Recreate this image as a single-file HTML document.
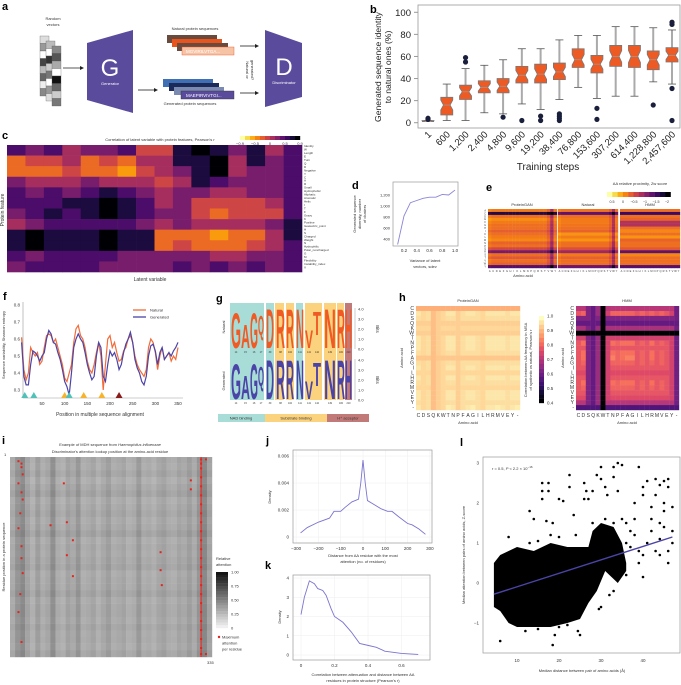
<!DOCTYPE html>
<html><head><meta charset="utf-8"><style>
html,body{margin:0;padding:0;background:#fff;}
svg{display:block;font-family:"Liberation Sans",sans-serif;}
.pl{font-weight:bold;font-size:11px;}
.t6{font-size:6px;fill:#333;}
.t5{font-size:5px;fill:#333;}
.t4{font-size:4px;fill:#333;}
</style></head><body>
<svg id="fig" width="681" height="685" viewBox="0 0 681 685">
<g>
<text class="pl" x="2" y="10">a</text>
<text class="t4" x="53" y="20" text-anchor="middle">Random</text>
<text class="t4" x="53" y="26" text-anchor="middle">vectors</text>
<g id="rv"></g>
<line x1="63" y1="68" x2="80" y2="68" stroke="#222" stroke-width="0.8"/>
<polygon points="80,66 84,68 80,70" fill="#222"/>
<polygon points="87,43 133,30 133,113 87,100" fill="#5a4b9d"/>
<text x="110" y="76" font-size="24" fill="#fff" text-anchor="middle">G</text>
<text x="110" y="85" font-size="4" fill="#fff" text-anchor="middle">Generator</text>
<text class="t4" x="195" y="30" text-anchor="middle">Natural protein sequences</text>
<rect x="167" y="35" width="50" height="8" fill="#6b4a3e"/>
<rect x="172" y="39" width="50" height="8" fill="#e8541e"/>
<rect x="177" y="43" width="51" height="8" fill="#6b4a3e"/>
<rect x="182" y="47" width="52" height="8" fill="#f7c3a5" stroke="#e8541e" stroke-width="0.4"/>
<text x="186" y="53" font-size="4.5" fill="#fff">MGVIRILVTGA...</text>
<line x1="138" y1="90" x2="154" y2="90" stroke="#222" stroke-width="0.8"/>
<polygon points="154,88 158,90 154,92" fill="#222"/>
<rect x="163" y="79" width="50" height="8" fill="#3f6fb5"/>
<rect x="169" y="83" width="50" height="8" fill="#1c2a5a"/>
<rect x="174" y="87" width="50" height="8" fill="#7a8ab0"/>
<rect x="181" y="91" width="53" height="8" fill="#5a4b9d" stroke="#333" stroke-width="0.4"/>
<text x="186" y="97" font-size="4.5" fill="#fff">MAEPIRVIVTGI...</text>
<text class="t4" x="190" y="105" text-anchor="middle">Generated protein sequences</text>
<line x1="240" y1="46" x2="255" y2="46" stroke="#222" stroke-width="0.8"/>
<polygon points="255,44 259,46 255,48" fill="#222"/>
<line x1="240" y1="93" x2="255" y2="93" stroke="#222" stroke-width="0.8"/>
<polygon points="255,91 259,93 255,95" fill="#222"/>
<text class="t4" transform="translate(246,70) rotate(90)" text-anchor="middle">Natural or</text>
<text class="t4" transform="translate(251,70) rotate(90)" text-anchor="middle">generated?</text>
<polygon points="265,30 302,43 302,97 265,107" fill="#5a4b9d"/>
<text x="284" y="75" font-size="24" fill="#fff" text-anchor="middle">D</text>
<text x="284" y="84" font-size="4" fill="#fff" text-anchor="middle">Discriminator</text>
</g>

<g>
<text class="pl" x="370" y="13">b</text>
<rect x="418" y="5" width="262" height="123" fill="none" stroke="#999" stroke-width="0.8"/>
<g id="bplot"></g>
<text font-size="8.6" fill="#222" transform="translate(381,67) rotate(-90)" text-anchor="middle">Generated sequence identity</text>
<text font-size="8.6" fill="#222" transform="translate(391,67) rotate(-90)" text-anchor="middle">to natural ones (%)</text>
<text font-size="10" fill="#222" x="548" y="170" text-anchor="middle">Training steps</text>
</g>

<g>
<text class="pl" x="2" y="139">c</text>
<text class="t4" x="160" y="141" text-anchor="middle" font-size="4.5">Correlation of latent variable with protein features, Pearson's r</text>
<g id="ccb"></g>
<g id="cheat"></g>
<g id="clab"></g>
<text font-size="5" fill="#333" x="150" y="281" text-anchor="middle">Latent variable</text>
<text font-size="5" fill="#333" transform="translate(4,210) rotate(-90)" text-anchor="middle">Protein feature</text>
</g>

<g>
<text class="pl" x="352" y="189">d</text>
<rect x="393" y="182" width="65" height="64" fill="none" stroke="#999" stroke-width="0.7"/>
<g id="dplot"></g>
<text class="t4" transform="translate(356,214) rotate(-90)" text-anchor="middle">Generated sequence</text>
<text class="t4" transform="translate(361,214) rotate(-90)" text-anchor="middle">diversity, number</text>
<text class="t4" transform="translate(366,214) rotate(-90)" text-anchor="middle">of clusters</text>
<text class="t4" x="425" y="262" text-anchor="middle">Variance of latent</text>
<text class="t4" x="425" y="268" text-anchor="middle">vectors, sdev</text>
</g>

<g>
<text class="pl" x="486" y="191">e</text>
<text class="t4" x="640" y="185" text-anchor="middle">AA relative proximity, Zw score</text>
<g id="ecb"></g>
<g id="eheat"></g>
<text class="t4" x="522" y="206" text-anchor="middle" font-size="4.5">ProteinGAN</text>
<text class="t4" x="588" y="206" text-anchor="middle" font-size="4.5">Natural</text>
<text class="t4" x="650" y="206" text-anchor="middle" font-size="4.5">HMM</text>
<text class="t4" x="523" y="277" font-size="3" text-anchor="middle">Amino acid</text>
</g>

<g>
<text class="pl" x="3" y="300">f</text>
<g id="fplot"></g>
<text class="t4" transform="translate(5,345) rotate(-90)" text-anchor="middle">Sequence variability, Shannon entropy</text>
<text class="t5" x="100" y="416" text-anchor="middle">Position in multiple sequence alignment</text>
<line x1="133" y1="310" x2="146" y2="310" stroke="#f26b38" stroke-width="1.3"/>
<text class="t4" x="150" y="311.5">Natural</text>
<line x1="133" y1="317" x2="146" y2="317" stroke="#4b44a8" stroke-width="1.3"/>
<text class="t4" x="150" y="318.5">Generated</text>
</g>

<g>
<text class="pl" x="216" y="302">g</text>
<g id="glogo"></g>
<text class="t4" transform="translate(225,327) rotate(-90)" text-anchor="middle">Natural</text>
<text class="t4" transform="translate(225,381) rotate(-90)" text-anchor="middle">Generated</text>
<rect x="218" y="414" width="47" height="8" fill="#a8dcd6"/>
<rect x="265" y="414" width="62" height="8" fill="#fbd27e"/>
<rect x="327" y="414" width="42" height="8" fill="#c27a78"/>
<text class="t4" x="241" y="419.5" text-anchor="middle">NAD binding</text>
<text class="t4" x="296" y="419.5" text-anchor="middle">Substrate binding</text>
<text class="t4" x="348" y="419.5" text-anchor="middle">H⁺ acceptor</text>
</g>

<g>
<text class="pl" x="399" y="301">h</text>
<text class="t4" x="468" y="302" text-anchor="middle" font-size="4.5">ProteinGAN</text>
<text class="t4" x="627" y="302" text-anchor="middle" font-size="4.5">HMM</text>
<g id="hheat"></g>
<g id="hcb"></g>
<text class="t4" transform="translate(527,360) rotate(-90)" text-anchor="middle">Correlation between AA frequency in MSA</text>
<text class="t4" transform="translate(532,360) rotate(-90)" text-anchor="middle">of synthetic vs natural, Pearson's r</text>
<text class="t4" x="468" y="424" text-anchor="middle">Amino acid</text>
<text class="t4" x="627" y="424" text-anchor="middle">Amino acid</text>
<text class="t4" transform="translate(403,358) rotate(-90)" text-anchor="middle">Amino acid</text>
<text class="t4" transform="translate(564,358) rotate(-90)" text-anchor="middle">Amino acid</text>
</g>

<g>
<text class="pl" x="2" y="444">i</text>
<text class="t4" x="110" y="446" text-anchor="middle" font-size="4.5">Example of MDH sequence from <tspan font-style="italic">Haemophilus influenzae</tspan></text>
<text class="t4" x="110" y="453" text-anchor="middle" font-size="4.5">Discriminator's attention lookup position at the amino-acid residue</text>
<text class="t4" x="4" y="456">1</text>
<g id="iheat"></g>
<text class="t4" x="207" y="664">335</text>
<text class="t4" transform="translate(5,557) rotate(-90)" text-anchor="middle" font-size="4.5">Residue position in a protein sequence</text>
<text class="t4" x="216" y="560">Relative</text>
<text class="t4" x="216" y="566">attention</text>
<g id="icb"></g>
<circle cx="219" cy="637" r="1.2" fill="#e8221c"/>
<text class="t4" x="222" y="638.5">Maximum</text>
<text class="t4" x="222" y="644.5">attention</text>
<text class="t4" x="222" y="650.5">per residue</text>
</g>

<g>
<text class="pl" x="266" y="444">j</text>
<g id="jplot"></g>
<text class="t4" x="363" y="557" text-anchor="middle">Distance from AA residue with the most</text>
<text class="t4" x="363" y="563" text-anchor="middle">attention (no. of residues)</text>
<text class="t4" transform="translate(271,497) rotate(-90)" text-anchor="middle">Density</text>
</g>

<g>
<text class="pl" x="265" y="569">k</text>
<g id="kplot"></g>
<text class="t4" x="363" y="676" text-anchor="middle">Correlation between attenuation and distance between AA</text>
<text class="t4" x="363" y="682" text-anchor="middle">residues in protein structure (Pearson's r)</text>
<text class="t4" transform="translate(281,617) rotate(-90)" text-anchor="middle">Density</text>
</g>

<g>
<text class="pl" x="460" y="446">l</text>
<rect x="483" y="457" width="197" height="196" fill="none" stroke="#999" stroke-width="0.7"/>
<g id="lplot"></g>
<text class="t4" x="492" y="470">r = 0.5, <tspan font-style="italic">P</tspan> &lt; 2.2 × 10<tspan dy="-2" font-size="3">−16</tspan></text>
<text class="t4" x="582" y="672" text-anchor="middle">Median distance between pair of amino acids (Å)</text>
<text class="t4" transform="translate(465,555) rotate(-90)" text-anchor="middle">Median attention between pairs of amino acids, Z-score</text>
</g>
</svg>
<script>
// ---------- data arrays ----------
const bCategories = ['1','600','1,200','2,400','4,800','9,600','19,200','38,400','76,800','153,600','307,200','614,400','1,228,800','2,457,600'];
const bMedian = [1,16,28,32,33,43,44,46,57,53,60,60,57,61];
const bQ1 = [1,7,21,27,27,36,36,39,50,45,51,50,48,55];
const bQ3 = [2,23,34,38,40,51,53,54,67,61,70,70,65,68];
const bWhiskLo = [1,2,2,9,8,17,12,21,32,22,24,24,37,35];
const bWhiskHi = [2,35,49,52,57,67,67,75,79,79,87,87,86,84];
const bOutliers = [[3,4],[],[55,59],[],[5],[2],[2,6],[2,4,6,8],[],[13,3],[],[],[16],[31,2,89,91]];
const bYTicks = [0,20,40,60,80,100];

const cGrid = ["7675667448986857","3445343558895867","3334332456895667","6555655545876667","7676787656655667","7778898756444457","6787898766434447","5677777656555568","8988898833323358","8988898834333457","7677776666655667","6777766667676767"];
const cFeatures = ['Identity','W','Length','E','Turn','Q','D','Negative','Y','C','A','R','Small','Hydrophobic','Aliphatic','Aromatic','Helix','I','T','F','Gravy','K','Positive','Isoelectric_point','H','S','Charged','Weight','N','Hydrophilic','Polar_noncharged','G','M','Flexibility','Instability_index','V'];

const dX = [0.1,0.2,0.3,0.4,0.5,0.6,0.7,0.8,0.9,1.0];
const dY = [300,820,1060,1100,1140,1160,1160,1210,1200,1290];
const dYTicks = [400,600,800,1000,1200];
const dXTicks = [0.2,0.4,0.6,0.8,1.0];

const eAA = ['A','C','D','E','F','G','H','I','K','L','M','N','P','Q','R','S','T','V','W','Y'];
const eGanRows = [0.1,-1.9,0,0.25,0.1,0,0,-0.15,0,0.1,0.2,-0.1,0,-0.4,-1.2,0,-0.2,0,-0.1,-1.5];
const eNatRows = [0.05,-1.4,0,0.1,0.1,0.05,0,-0.1,0.3,0.1,0.3,0,0,-0.3,-0.9,0.1,-0.1,0,0,-1.3];
const eHmmRows = [0,-1.7,0,-0.1,-0.7,-0.7,0,0.2,0,0.3,-0.1,0,0,-0.2,-1.4,0.2,0,0,0,-1.5];
const eColMod = [0.1,0,0,0,0,0,0,0,0,0,0,0,0,0,0,0,0,-0.2,-0.8,0];
const eCbTicks = [0.5,0,-0.5,-1,-1.5,-2];

const fPos = [5,10,15,20,25,30,35,40,45,50,55,60,65,70,75,80,85,90,95,100,105,110,115,120,125,130,135,140,145,150,155,160,165,170,175,180,185,190,195,200,205,210,215,220,225,230,235,240,245,250,255,260,265,270,275,280,285,290,295,300,305,310,315,320,325,330,335,340,345,350];
const fNatural = [0.61,0.42,0.36,0.40,0.55,0.52,0.50,0.52,0.45,0.47,0.55,0.62,0.63,0.62,0.58,0.60,0.55,0.50,0.45,0.37,0.35,0.40,0.45,0.58,0.66,0.68,0.62,0.60,0.55,0.47,0.42,0.40,0.45,0.52,0.58,0.50,0.30,0.45,0.60,0.62,0.55,0.58,0.52,0.47,0.48,0.53,0.55,0.60,0.62,0.58,0.50,0.45,0.42,0.40,0.38,0.42,0.55,0.60,0.58,0.52,0.42,0.50,0.55,0.48,0.50,0.52,0.47,0.50,0.48,0.55];
const fGenerated = [0.58,0.38,0.33,0.33,0.45,0.53,0.52,0.50,0.47,0.50,0.52,0.60,0.65,0.63,0.58,0.57,0.52,0.48,0.42,0.35,0.32,0.27,0.40,0.55,0.60,0.63,0.60,0.58,0.52,0.45,0.40,0.36,0.38,0.50,0.58,0.55,0.38,0.35,0.45,0.53,0.50,0.52,0.48,0.42,0.45,0.52,0.57,0.60,0.64,0.58,0.48,0.43,0.40,0.35,0.33,0.38,0.50,0.56,0.57,0.53,0.45,0.52,0.55,0.48,0.50,0.52,0.50,0.53,0.55,0.58];
const fYTicks = [0.3,0.4,0.5,0.6,0.7,0.8];
const fXTicks = [50,100,150,200,250,300,350];
const fTriPos = [12,32,100,110,142,182,220];
const fTriColor = ['#4fc1b8','#4fc1b8','#f7b32b','#4fc1b8','#f7b32b','#f7b32b','#8b1a1a'];

const gTop = ['G','A','G','Q','D','R','R','N','V','T','N','R','H'];
const gTopH = [0.9,0.6,0.9,0.5,1,1,1,1,0.45,0.6,1,1,1];
const gSegColors = ['#a8dcd6','#a8dcd6','#fbd27e','#fbd27e','#a8dcd6','#fbd27e','#fbd27e','#fbd27e','#c27a78'];
const gSites = ['14','15','16','17','39','98','102','111','141','142','149','182','210'];

const hAA = ['C','D','S','Q','K','W','T','N','P','F','A','G','I','L','H','R','M','V','E','Y','-'];
const hGanRow = [0.9,0.97,0.96,0.94,0.95,0.94,0.97,0.97,0.97,0.96,0.93,0.96,0.97,0.95,0.97,0.96,0.95,0.97,0.97,0.96,0.98];
const hGanCol = [0.97,0.95,0.96,0.92,0.94,0.95,0.98,0.97,0.94,0.96,0.97,0.98,0.96,0.95,0.97,0.97,0.98,0.97,0.96,0.97,0.98];
const hHmmRow = [0.7,0.8,0.62,0.58,0.68,0.4,0.74,0.82,0.78,0.82,0.84,0.8,0.78,0.76,0.78,0.82,0.8,0.78,0.76,0.7,0.55];
const hHmmCol = [0.78,0.82,0.62,0.58,0.66,0.4,0.74,0.84,0.8,0.82,0.88,0.84,0.78,0.8,0.78,0.82,0.78,0.8,0.78,0.74,0.6];
const hCbTicks = [0.4,0.5,0.6,0.7,0.8,0.9,1.0];

const iColVals = [0.45,0.62,0.7,0.5,0.4,0.55,0.42,0.48,0.66,0.44,0.4,0.52,0.46,0.6,0.42,0.45,0.5,0.4,0.47,0.55,0.43,0.46,0.5,0.41,0.44,0.58,0.42,0.45,0.4,0.48,0.52,0.44,0.42,0.5,0.46,0.55,0.45,0.62,0.72,0.5];
const iRowVals = [0.5,0.45,0.55,0.4,0.5,0.6,0.42,0.48,0.55,0.45,0.5,0.62,0.44,0.5,0.46,0.52,0.58,0.44,0.48,0.5,0.6,0.45,0.5,0.52,0.46,0.55,0.48,0.5,0.45,0.56];
const iRedCols = [317,317,317,317,317,317,317,317,317,317,317,317,317,317,317,317,317,317,317,317,317,317,317,317,15,20,20,22,15,20,22,18,15,20,20,22,18,15,20,90,95,95,105,105,250,250,252,300,300,68,325,325];
const iRedRows = [5,20,35,50,65,80,95,110,125,140,155,170,185,200,215,230,245,260,275,290,305,320,330,12,8,12,18,30,45,60,72,95,120,150,170,195,230,260,310,45,110,165,140,200,160,190,215,40,55,115,5,330];

const jX = [-280,-250,-200,-150,-130,-100,-80,-50,-20,-10,0,10,20,40,80,110,130,160,200,220,250,280];
const jY = [0.0003,0.0007,0.0011,0.0014,0.0019,0.0019,0.0022,0.0026,0.0028,0.0040,0.0057,0.0040,0.0027,0.0025,0.0021,0.0019,0.0019,0.0015,0.0010,0.0009,0.0006,0.0002];
const jYTicks = [0,0.002,0.004,0.006];
const jXTicks = [-300,-200,-100,0,100,200,300];

const kX = [0,0.02,0.05,0.08,0.1,0.13,0.15,0.18,0.2,0.25,0.3,0.35,0.4,0.45,0.5,0.6,0.7];
const kY = [2.1,3.0,3.85,3.7,3.45,3.35,3.1,2.4,2.0,1.7,1.2,0.6,0.5,0.4,0.2,0.08,0.03];
const kYTicks = [0,1,2,3,4];
const kXTicks = [0,0.2,0.4,0.6];

const lDenseUpX = [4.5,6,8,10,14,18,22,25,27,28,30,33,35,36];
const lDenseUpY = [0.5,0.7,0.8,0.9,0.8,1.0,0.9,0.9,0.9,1.3,1.5,1.4,1.0,0.5];
const lDenseLoX = [36,34,31,29,27,25,22,18,14,10,8,6,4.5];
const lDenseLoY = [0.3,0,0.3,-0.2,-0.5,-0.9,-1.0,-1.1,-1.1,-1.1,-1.0,-0.7,-0.6];
const lSparseX = [16,16,16,17.5,17.5,20,21,22.5,22.5,23.5,18.5,17,13,14,26,26.5,26,27,28,29,30,30,31,31.5,33,34,35,33,34,35,36,38,39,40,40,41,43,43,44,45,46,46,45,44,42,41,43,46,39,40,37,36,34,33,32,30,29.5,27,26,25,24.5,19,18.5,6,12,15,20,22,5,8,13,15,18,20,24,28,29,31,33,38,42,45,47,47,44,39,36,30,46,38,42,44,37,40,45,47];
const lSparseY = [2.5,2.3,2.1,2.5,2.3,2.1,2.05,2.7,2.4,1.7,1.5,1.55,1.8,1.6,2.5,2.3,2.1,2.1,2.3,2.7,2.9,2.6,2.4,2.2,2.9,3.0,2.95,2.65,2.3,1.6,1.5,2.0,2.9,2.4,2.2,2.55,2.6,2.2,2.45,2.55,2.6,2.4,1.8,1.5,1.3,1.0,0.8,0.5,0.8,0.15,1.3,1.0,0.7,-0.2,-0.3,-0.6,-0.65,-0.3,0.3,-1.3,-1.2,-1.3,-1.55,-1.45,-1.2,-1.15,-1.1,-1.05,0.5,1.15,1.0,1.05,1.2,1.15,1.2,1.5,1.3,1.6,1.5,1.6,1.9,2.0,1.9,1.0,0.7,0.5,0.2,0.2,0.8,1.2,1.6,1.1,0.9,0.7,1.4,1.3];
const lFitX = [4.5,47];
const lFitY = [-0.28,1.15];
const lYTicks = [-1,0,1,2,3];
const lXTicks = [10,20,30,40];

// ---------- helpers ----------
const NS='http://www.w3.org/2000/svg';
function el(tag, parent){const e=document.createElementNS(NS,tag);parent.appendChild(e);return e;}
function G(id){return document.getElementById(id);}
function lin(d0,d1,r0,r1){return v=>r0+(v-d0)/(d1-d0)*(r1-r0);}
function hex2(c){return [parseInt(c.slice(1,3),16),parseInt(c.slice(3,5),16),parseInt(c.slice(5,7),16)];}
function ramp(stops){return t=>{t=Math.max(0,Math.min(1,t));const n=stops.length-1;const i=Math.min(n-1,Math.floor(t*n));const f=t*n-i;const a=hex2(stops[i]),b=hex2(stops[i+1]);return 'rgb('+a.map((x,k)=>Math.round(x+(b[k]-x)*f)).join(',')+')';};}
const inferno=ramp(['#000004','#160b39','#420a68','#6a176e','#932667','#bc3754','#dd513a','#f37819','#fca50a','#f6d746','#fcffa4']);
const magma=ramp(['#000004','#140e36','#3b0f70','#641a80','#8c2981','#b73779','#de4968','#f7705c','#fe9f6d','#fecf92','#fcfdbf']);
function txt(parent,x,y,s,size,anchor){const t=el('text',parent);t.setAttribute('x',x);t.setAttribute('y',y);t.setAttribute('font-size',size);t.setAttribute('fill','#333');if(anchor)t.setAttribute('text-anchor',anchor);t.textContent=s;return t;}

// ---------- a: random vectors ----------
(function(){const g=G('rv');const shades=[['#ddd','#999','#fff','#444','#bbb','#666','#eee','#888'],['#bbb','#fff','#333','#ccc','#777','#fff','#999','#ddd'],['#888','#555','#aaa','#fff','#111','#666','#ccc','#777']];
for(let c=0;c<3;c++)for(let r=0;r<8;r++){const rc=el('rect',g);rc.setAttribute('x',40+c*6);rc.setAttribute('y',36+c*5+r*7.5);rc.setAttribute('width',9);rc.setAttribute('height',7.5);rc.setAttribute('fill',shades[c][r]);rc.setAttribute('stroke','#555');rc.setAttribute('stroke-width',0.3);

}})();

// ---------- b ----------
(function(){const g=G('bplot');const y=lin(0,100,122.7,12.3);const x0=428,step=(672-428)/13;
bYTicks.forEach(v=>{const t=txt(g,411,y(v)+3.5,String(v),9.5,'end');t.setAttribute('fill','#222');


const tk=el('line',g);tk.setAttribute('x1',414);tk.setAttribute('x2',418);tk.setAttribute('y1',y(v));tk.setAttribute('y2',y(v));tk.setAttribute('stroke','#999');

});
bCategories.forEach((c,i)=>{const cx=x0+i*step;const w=6,n=(bQ3[i]-bQ1[i])*0.25+0.5;
const wl=el('line',g);wl.setAttribute('x1',cx);wl.setAttribute('x2',cx);wl.setAttribute('y1',y(bWhiskLo[i]));wl.setAttribute('y2',y(bWhiskHi[i]));wl.setAttribute('stroke','#aaa');wl.setAttribute('stroke-width',2);


[bWhiskLo[i],bWhiskHi[i]].forEach(v=>{const cap=el('line',g);cap.setAttribute('x1',cx-4);cap.setAttribute('x2',cx+4);cap.setAttribute('y1',y(v));cap.setAttribute('y2',y(v));cap.setAttribute('stroke','#555');cap.setAttribute('stroke-width',0.8);

});
const m=bMedian[i],q1=bQ1[i],q3=bQ3[i];const nu=Math.min(m+n,q3),nl=Math.max(m-n,q1);
const pts=[[cx-w,q3],[cx+w,q3],[cx+w,nu],[cx+w*0.55,m],[cx+w,nl],[cx+w,q1],[cx-w,q1],[cx-w,nl],[cx-w*0.55,m],[cx-w,nu]];
const bx=el('polygon',g);bx.setAttribute('points',pts.map(p=>p[0]+','+y(p[1])).join(' '));bx.setAttribute('fill','#ee5a24');bx.setAttribute('stroke','#777');bx.setAttribute('stroke-width',0.8);


const md=el('line',g);md.setAttribute('x1',cx-w*0.55);md.setAttribute('x2',cx+w*0.55);md.setAttribute('y1',y(m));md.setAttribute('y2',y(m));md.setAttribute('stroke','#999');md.setAttribute('stroke-width',0.8);


bOutliers[i].forEach(v=>{const o=el('circle',g);o.setAttribute('cx',cx);o.setAttribute('cy',y(v));o.setAttribute('r',2.6);o.setAttribute('fill','#1a1f3c');

});
const t=el('text',g);t.setAttribute('transform','translate('+(cx+4)+',135) rotate(-45)');t.setAttribute('text-anchor','end');t.setAttribute('font-size',9.5);t.setAttribute('fill','#222');t.textContent=c;

});})();

// ---------- c ----------
(function(){const g=G('cheat');const rows=cGrid.length,cols=cGrid[0].length;const x0=7,x1=302,y0=145,y1=272;const cw=(x1-x0)/cols,ch=(y1-y0)/rows;
cGrid.forEach((row,r)=>{for(let c=0;c<cols;c++){const v=-0.9+parseInt(row[c])*0.2;const rc=el('rect',g);rc.setAttribute('x',x0+c*cw);rc.setAttribute('y',y0+r*ch);rc.setAttribute('width',cw+0.3);rc.setAttribute('height',ch+0.3);rc.setAttribute('fill',inferno(1-(v+0.9)/1.8));

}});
const cb=G('ccb');for(let i=0;i<12;i++){const rc=el('rect',cb);rc.setAttribute('x',240+i*5);rc.setAttribute('y',136);rc.setAttribute('width',5.2);rc.setAttribute('height',4);rc.setAttribute('fill',inferno(1-i/11));

}
['−0.9','−0.5','0','0.5','0.9'].forEach((s,i)=>{const t=txt(cb,240+i*15,145,s,4,'middle');

});
const lg=G('clab');cFeatures.forEach((f,i)=>{const t=txt(lg,304,147+i*(125/cFeatures.length),f,3,null);

});})();

// ---------- d ----------
(function(){const g=G('dplot');const x=lin(0.2,1.0,404,455),y=lin(400,1200,239,195);
dYTicks.forEach(v=>{const t=txt(g,390,y(v)+1.5,v.toLocaleString('en-US'),4,'end');

});
dXTicks.forEach(v=>{const t=txt(g,x(v),252,v.toFixed(1),4.5,'middle');

});
const p=el('polyline',g);p.setAttribute('points',dX.map((v,i)=>x(v)+','+y(dY[i])).join(' '));p.setAttribute('fill','none');p.setAttribute('stroke','#8a84d6');p.setAttribute('stroke-width',0.9);

})();

// ---------- e ----------
(function(){const g=G('eheat');const panels=[[488,557,eGanRows,true],[558,618,eNatRows,true],[620,680,eHmmRows,false]];const y0=209,y1=268;const rh=(y1-y0)/20;
panels.forEach((p,pi)=>{const cw=(p[1]-p[0])/20;p[2].forEach((rv,r)=>{eAA.forEach((a,c)=>{const v=rv+(p[3]?eColMod[c]:0);const rc=el('rect',g);rc.setAttribute('x',p[0]+c*cw);rc.setAttribute('y',y0+r*rh);rc.setAttribute('width',cw+0.2);rc.setAttribute('height',rh+0.2);rc.setAttribute('fill',inferno(1-(0.5-v)/2.5*0.72-0.18));

});});
eAA.forEach((a,c)=>{const t=txt(g,p[0]+(c+0.5)*cw,272,a,2.6,'middle');

});});
eAA.forEach((a,r)=>{const t=txt(g,486,y0+(r+0.8)*rh,a,2.4,'end');

});
const cb=G('ecb');for(let i=0;i<12;i++){const rc=el('rect',cb);rc.setAttribute('x',607+i*5.3);rc.setAttribute('y',192);rc.setAttribute('width',5.5);rc.setAttribute('height',5);rc.setAttribute('fill',inferno(1-i/11));

}
eCbTicks.forEach((v,i)=>{const t=txt(cb,612+i*11,203,String(v).replace('-','−'),3.6,'middle');

});})();

// ---------- f ----------
(function(){const g=G('fplot');const x=lin(50,350,42,178),y=lin(0.3,0.8,390,305);
const ax=el('path',g);ax.setAttribute('d','M23,302 V398 M23,398 H183');ax.setAttribute('stroke','#999');ax.setAttribute('stroke-width',0.6);ax.setAttribute('fill','none');


fYTicks.forEach(v=>{const t=txt(g,20,y(v)+1.5,v.toFixed(1),4.5,'end');

});
fXTicks.forEach(v=>{const t=txt(g,x(v),405,String(v),4.5,'middle');

});
[[fNatural,'#f26b38','natural-line'],[fGenerated,'#4b44a8','generated-line']].forEach(s=>{const p=el('polyline',g);p.setAttribute('points',fPos.map((v,i)=>x(v)+','+y(s[0][i])).join(' '));p.setAttribute('fill','none');p.setAttribute('stroke',s[1]);p.setAttribute('stroke-width',1.2);

});
fTriPos.forEach((v,i)=>{const t=el('polygon',g);const cx=x(v);t.setAttribute('points',(cx-3.5)+',398 '+(cx+3.5)+',398 '+cx+',392');t.setAttribute('fill',fTriColor[i]);

});})();

// ---------- g ----------
(function(){const g=G('glogo');const segs=[[230,264],[266,274],[275,284],[286,294],[296,303],[305,322],[324,336],[337,344],[345,352]];
segs.forEach((s,i)=>{const r=el('rect',g);r.setAttribute('x',s[0]);r.setAttribute('y',303);r.setAttribute('width',s[1]-s[0]);r.setAttribute('height',97);r.setAttribute('fill',gSegColors[i]);

});
const lx=[231,241,250,258,266,276,286,296,305,313,324,337,345],lw=[10,9,8,6,8,9,8,8,8,8,12,8,7];
[[349,'#f05a24','natural'],[400,'#4b44a8','generated']].forEach(row=>{gTop.forEach((ch,i)=>{const h=40*gTopH[i];const t=el('text',g);t.setAttribute('x',0);t.setAttribute('y',0);t.setAttribute('font-size',10);t.setAttribute('font-weight','bold');t.setAttribute('fill',row[1]);t.setAttribute('textLength',7);t.setAttribute('lengthAdjust','spacingAndGlyphs');
const base=(ch==='T'||ch==='Q')?row[0]-14:row[0]-1;
t.setAttribute('transform','translate('+lx[i]+','+base+') scale('+(lw[i]/7)+','+(h/7.2)+')');t.textContent=ch;

});
const al=el('line',g);al.setAttribute('x1',355);al.setAttribute('x2',355);al.setAttribute('y1',row[0]-41);al.setAttribute('y2',row[0]);al.setAttribute('stroke','#999');al.setAttribute('stroke-width',0.5);


[0,1,2,3,4].forEach(v=>{const t=txt(g,358,row[0]-v*10+1.3,v.toFixed(1),4,null);

});
const bt=el('text',g);bt.setAttribute('transform','translate(376,'+(row[0]-20)+') rotate(90)');bt.setAttribute('font-size',4.5);bt.setAttribute('fill','#333');bt.setAttribute('text-anchor','middle');bt.textContent='Bits';


gSites.forEach((s,i)=>{const t=txt(g,lx[i]+lw[i]/2,row[0]+4,s,2.4,'middle');

});});})();

// ---------- h ----------
(function(){const g=G('hheat');const n=hAA.length;
[[416,520,hGanRow,hGanCol,'gan'],[576,679,hHmmRow,hHmmCol,'hmm']].forEach(p=>{const cw=(p[1]-p[0])/n,ch=(410-306)/n;
for(let r=0;r<n;r++)for(let c=0;c<n;c++){const v=Math.min(p[2][r],p[3][c]);const rc=el('rect',g);rc.setAttribute('x',p[0]+c*cw);rc.setAttribute('y',306+r*ch);rc.setAttribute('width',cw+0.2);rc.setAttribute('height',ch+0.2);rc.setAttribute('fill',magma((v-0.4)/0.6));

}
hAA.forEach((a,i)=>{const t=txt(g,p[0]+(i+0.5)*cw,417,a,5,'middle');


const t2=txt(g,p[0]-2,306+(i+0.8)*ch,a,5,'end');

});});
const cb=G('hcb');for(let i=0;i<20;i++){const rc=el('rect',cb);rc.setAttribute('x',539);rc.setAttribute('y',316+i*4.35);rc.setAttribute('width',5);rc.setAttribute('height',4.5);rc.setAttribute('fill',magma(1-i/19));

}
hCbTicks.forEach(v=>{const t=txt(cb,547,403-(v-0.4)/0.6*87+1.5,v.toFixed(1),4.5,null);

});})();

// ---------- i ----------
(function(){const g=G('iheat');const x0=10,x1=212,y0=457,y1=657;const nc=iColVals.length,nr=iRowVals.length;const cw=(x1-x0)/nc,ch=(y1-y0)/nr;
for(let r=0;r<nr;r++)for(let c=0;c<nc;c++){const v=iColVals[c]*0.7+iRowVals[r]*0.3;const k=Math.round(255*(1-v*0.72));const rc=el('rect',g);rc.setAttribute('x',x0+c*cw);rc.setAttribute('y',y0+r*ch);rc.setAttribute('width',cw+0.2);rc.setAttribute('height',ch+0.2);rc.setAttribute('fill','rgb('+k+','+k+','+k+')');

}
const xs=lin(1,335,x0,x1),ys=lin(1,335,y0,y1);
iRedCols.forEach((c,i)=>{const d=el('rect',g);d.setAttribute('x',xs(c)-1);d.setAttribute('y',ys(iRedRows[i])-1);d.setAttribute('width',2);d.setAttribute('height',2);d.setAttribute('fill','#e8221c');

});
const rl=el('rect',g);rl.setAttribute('x',xs(317)-0.8);rl.setAttribute('y',y0);rl.setAttribute('width',1.6);rl.setAttribute('height',y1-y0);rl.setAttribute('fill','#e8221c');rl.setAttribute('opacity',0.7);


const cb=G('icb');for(let i=0;i<20;i++){const k=Math.round(20+i*11.5);const rc=el('rect',cb);rc.setAttribute('x',216);rc.setAttribute('y',572+i*2.8);rc.setAttribute('width',12);rc.setAttribute('height',3);rc.setAttribute('fill','rgb('+k+','+k+','+k+')');

}
['1.00','0.75','0.50','0.25','0'].forEach((s,i)=>{const t=txt(cb,231,573.5+i*14,s,4,null);

});})();

// ---------- density charts ----------
function density(id,xs,ys,xT,yT,box,xr,yr,fmtX,fmtY,nm){const g=G(id);const x=lin(xr[0],xr[1],xr[2],xr[3]),y=lin(yr[0],yr[1],yr[2],yr[3]);
xT.forEach(v=>{const l=el('line',g);l.setAttribute('x1',x(v));l.setAttribute('x2',x(v));l.setAttribute('y1',box[1]);l.setAttribute('y2',box[3]);l.setAttribute('stroke','#eee');l.setAttribute('stroke-width',0.5);


const t=txt(g,x(v),box[3]+7,fmtX(v),4.5,'middle');

});
yT.forEach(v=>{const l=el('line',g);l.setAttribute('x1',box[0]);l.setAttribute('x2',box[2]);l.setAttribute('y1',y(v));l.setAttribute('y2',y(v));l.setAttribute('stroke','#eee');l.setAttribute('stroke-width',0.5);


const t=txt(g,box[0]-4,y(v)+1.5,fmtY(v),4.5,'end');

});
const fr=el('rect',g);fr.setAttribute('x',box[0]);fr.setAttribute('y',box[1]);fr.setAttribute('width',box[2]-box[0]);fr.setAttribute('height',box[3]-box[1]);fr.setAttribute('fill','none');fr.setAttribute('stroke','#999');fr.setAttribute('stroke-width',0.7);


const p=el('polyline',g);p.setAttribute('points',xs.map((v,i)=>x(v)+','+y(ys[i])).join(' '));p.setAttribute('fill','none');p.setAttribute('stroke','#7b74d0');p.setAttribute('stroke-width',0.9);

}
density('jplot',jX,jY,jXTicks,jYTicks,[293,450,432,543],[0,100,363,385.3],[0,0.002,537,510],v=>String(v).replace('-','−'),v=>v===0?'0':v.toFixed(3),'j');
density('kplot',kX,kY,kXTicks,kYTicks,[293,575,430,660],[0,0.2,301,334.5],[0,1,655,635.75],v=>v===0?'0':v.toFixed(1),v=>String(v),'k');

// ---------- l ----------
(function(){const g=G('lplot');const x=lin(10,40,517,643),y=lin(0,1,583,543);
lYTicks.forEach(v=>{const t=txt(g,479,y(v)+1.5,String(v).replace('-','−'),4.5,'end');

});
lXTicks.forEach(v=>{const t=txt(g,x(v),662,String(v),4.5,'middle');

});
const poly=el('polygon',g);const pts=lDenseUpX.map((v,i)=>x(v)+','+y(lDenseUpY[i])).concat(lDenseLoX.map((v,i)=>x(v)+','+y(lDenseLoY[i])));poly.setAttribute('points',pts.join(' '));poly.setAttribute('fill','#000');


lSparseX.forEach((v,i)=>{const c=el('circle',g);c.setAttribute('cx',x(v));c.setAttribute('cy',y(lSparseY[i]));c.setAttribute('r',1.3);c.setAttribute('fill','#000');

});
const f=el('line',g);f.setAttribute('x1',x(lFitX[0]));f.setAttribute('y1',y(lFitY[0]));f.setAttribute('x2',x(lFitX[1]));f.setAttribute('y2',y(lFitY[1]));f.setAttribute('stroke','#4b44a8');f.setAttribute('stroke-width',1.4);

})();
</script>
</body></html>
